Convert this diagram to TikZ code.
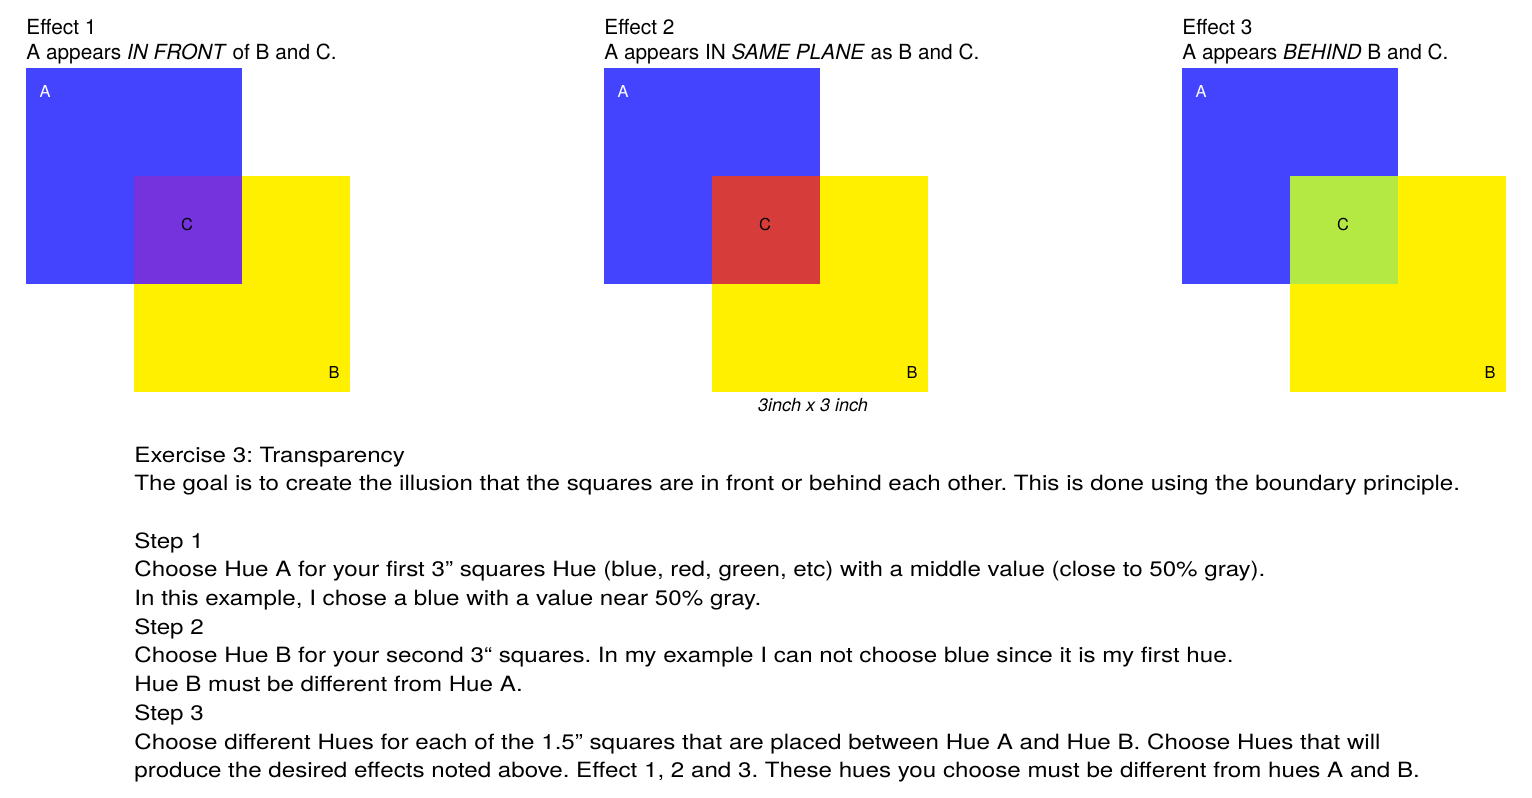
\documentclass[tikz,border=0pt]{standalone}
\usepackage{fontspec}
\setmainfont{TeX Gyre Heros}
\newfontfamily\bodyfont{TeX Gyre Heros}[FakeStretch=1.15]
\definecolor{hueA}{HTML}{4444FF}
\definecolor{hueB}{HTML}{FFF000}
\definecolor{cFront}{HTML}{7433DC}
\definecolor{cSame}{HTML}{D63D3A}
\definecolor{cBehind}{HTML}{B4E842}
\frenchspacing
\begin{document}
\begin{tikzpicture}[x=0.5pt,y=-0.5pt,
		txt/.style={anchor=base west,inner sep=0pt,font=\fontsize{10.4}{12.6}\selectfont},
		body/.style={anchor=base west,inner sep=0pt,font=\bodyfont\fontsize{10.5}{12.6}\selectfont},
		lbl/.style={anchor=base,inner sep=0pt,font=\fontsize{8.2}{10}\selectfont}]
	\useasboundingbox[fill=white] (0,0) rectangle (1532,798);
	% the three effects
	\foreach \dx/\n/\cc/\desc in {0/1/cFront/{A appears \textit{IN FRONT} of B and C.},
			578/2/cSame/{A appears IN \textit{SAME PLANE} as B and C.},
			1156/3/cBehind/{A appears \textit{BEHIND} B and C.}}{
		\fill[hueA] ({26+\dx},68) rectangle ({242+\dx},284);
		\fill[hueB] ({134+\dx},176) rectangle ({350+\dx},392);
		\fill[\cc] ({134+\dx},176) rectangle ({242+\dx},284);
		\node[txt] (eff\n) at ({26+\dx},34) {Effect \n};
		\node[txt] (desc\n) at ({26+\dx},59) {\desc};
		\node[lbl,text=white] (labA\n) at ({45+\dx},97) {A};
		\node[lbl] (labC\n) at ({187+\dx},230) {C};
		\node[lbl] (labB\n) at ({334+\dx},378) {B};
	}
	\node[anchor=base,inner sep=0pt,font=\fontsize{9}{11}\selectfont\itshape] (size) at (813,411) {3inch x 3 inch};
	% exercise text
	\foreach \i/\line in {0/{Exercise 3: Transparency},
			1/{The goal is to create the illusion that the squares are in front or behind each other. This is done using the boundary principle.},
			3/{Step 1},
			4/{Choose Hue A for your first 3” squares Hue (blue, red, green, etc) with a middle value (close to 50\% gray).},
			5/{In this example, I chose a blue with a value near 50\% gray.},
			6/{Step 2},
			7/{Choose Hue B for your second 3“ squares. In my example I can not choose blue since it is my first hue.},
			8/{Hue B must be different from Hue A.},
			9/{Step 3},
			10/{Choose different Hues for each of the 1.5” squares that are placed between Hue A and Hue B. Choose Hues that will},
			11/{produce the desired effects noted above. Effect 1, 2 and 3. These hues you choose must be different from hues A and B.}}
		\node[body] (line\i) at (134,{462+28.7*\i}) {\line};
\end{tikzpicture}
\end{document}
